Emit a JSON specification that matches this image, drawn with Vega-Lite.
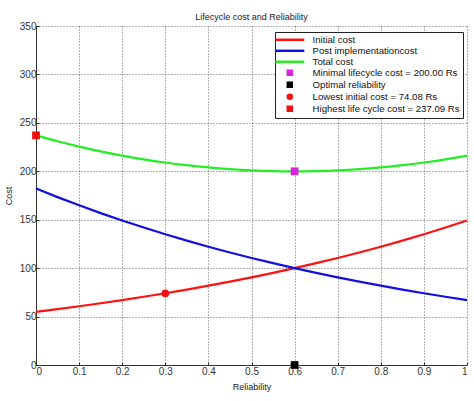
{
  "$schema": "https://vega.github.io/schema/vega-lite/v6.json",
  "width": 431,
  "height": 339,
  "autosize": {"type": "none"},
  "padding": {"left": 36, "top": 26, "right": 7, "bottom": 36},
  "background": "white",
  "title": {"text": "Lifecycle cost and Reliability", "fontSize": 9, "fontWeight": "normal", "font": "Liberation Sans", "color": "#222", "offset": -1},
  "config": {
    "view": {"stroke": null},
    "font": "Liberation Sans"
  },
  "datasets": {
    "curves": [
      {"r": 0, "series": "Initial cost", "cost": 54.88},
      {"r": 0.05, "series": "Initial cost", "cost": 57.69},
      {"r": 0.1, "series": "Initial cost", "cost": 60.65},
      {"r": 0.15, "series": "Initial cost", "cost": 63.76},
      {"r": 0.2, "series": "Initial cost", "cost": 67.03},
      {"r": 0.25, "series": "Initial cost", "cost": 70.47},
      {"r": 0.3, "series": "Initial cost", "cost": 74.08},
      {"r": 0.35, "series": "Initial cost", "cost": 77.88},
      {"r": 0.4, "series": "Initial cost", "cost": 81.87},
      {"r": 0.45, "series": "Initial cost", "cost": 86.07},
      {"r": 0.5, "series": "Initial cost", "cost": 90.48},
      {"r": 0.55, "series": "Initial cost", "cost": 95.12},
      {"r": 0.6, "series": "Initial cost", "cost": 100.0},
      {"r": 0.65, "series": "Initial cost", "cost": 105.13},
      {"r": 0.7, "series": "Initial cost", "cost": 110.52},
      {"r": 0.75, "series": "Initial cost", "cost": 116.18},
      {"r": 0.8, "series": "Initial cost", "cost": 122.14},
      {"r": 0.85, "series": "Initial cost", "cost": 128.4},
      {"r": 0.9, "series": "Initial cost", "cost": 134.99},
      {"r": 0.95, "series": "Initial cost", "cost": 141.91},
      {"r": 1, "series": "Initial cost", "cost": 149.18},
      {"r": 0, "series": "Post implementationcost", "cost": 182.21},
      {"r": 0.05, "series": "Post implementationcost", "cost": 173.33},
      {"r": 0.1, "series": "Post implementationcost", "cost": 164.87},
      {"r": 0.15, "series": "Post implementationcost", "cost": 156.83},
      {"r": 0.2, "series": "Post implementationcost", "cost": 149.18},
      {"r": 0.25, "series": "Post implementationcost", "cost": 141.91},
      {"r": 0.3, "series": "Post implementationcost", "cost": 134.99},
      {"r": 0.35, "series": "Post implementationcost", "cost": 128.4},
      {"r": 0.4, "series": "Post implementationcost", "cost": 122.14},
      {"r": 0.45, "series": "Post implementationcost", "cost": 116.18},
      {"r": 0.5, "series": "Post implementationcost", "cost": 110.52},
      {"r": 0.55, "series": "Post implementationcost", "cost": 105.13},
      {"r": 0.6, "series": "Post implementationcost", "cost": 100.0},
      {"r": 0.65, "series": "Post implementationcost", "cost": 95.12},
      {"r": 0.7, "series": "Post implementationcost", "cost": 90.48},
      {"r": 0.75, "series": "Post implementationcost", "cost": 86.07},
      {"r": 0.8, "series": "Post implementationcost", "cost": 81.87},
      {"r": 0.85, "series": "Post implementationcost", "cost": 77.88},
      {"r": 0.9, "series": "Post implementationcost", "cost": 74.08},
      {"r": 0.95, "series": "Post implementationcost", "cost": 70.47},
      {"r": 1, "series": "Post implementationcost", "cost": 67.03},
      {"r": 0, "series": "Total cost", "cost": 237.09},
      {"r": 0.05, "series": "Total cost", "cost": 231.02},
      {"r": 0.1, "series": "Total cost", "cost": 225.52},
      {"r": 0.15, "series": "Total cost", "cost": 220.59},
      {"r": 0.2, "series": "Total cost", "cost": 216.21},
      {"r": 0.25, "series": "Total cost", "cost": 212.38},
      {"r": 0.3, "series": "Total cost", "cost": 209.07},
      {"r": 0.35, "series": "Total cost", "cost": 206.28},
      {"r": 0.4, "series": "Total cost", "cost": 204.01},
      {"r": 0.45, "series": "Total cost", "cost": 202.25},
      {"r": 0.5, "series": "Total cost", "cost": 201.0},
      {"r": 0.55, "series": "Total cost", "cost": 200.25},
      {"r": 0.6, "series": "Total cost", "cost": 200.0},
      {"r": 0.65, "series": "Total cost", "cost": 200.25},
      {"r": 0.7, "series": "Total cost", "cost": 201.0},
      {"r": 0.75, "series": "Total cost", "cost": 202.25},
      {"r": 0.8, "series": "Total cost", "cost": 204.01},
      {"r": 0.85, "series": "Total cost", "cost": 206.28},
      {"r": 0.9, "series": "Total cost", "cost": 209.07},
      {"r": 0.95, "series": "Total cost", "cost": 212.38},
      {"r": 1, "series": "Total cost", "cost": 216.21}
    ],
    "markers": [
      {"r": 0.6, "series": "Minimal lifecycle cost = 200.00 Rs", "cost": 200.0},
      {"r": 0.6, "series": "Optimal reliability", "cost": 0},
      {"r": 0.3, "series": "Lowest initial cost = 74.08 Rs", "cost": 74.08},
      {"r": 0, "series": "Highest life cycle cost = 237.09 Rs", "cost": 237.09}
    ]
  },
  "encoding": {
    "x": {
      "field": "r", "type": "quantitative",
      "scale": {"domain": [0, 1], "nice": false, "zero": false},
      "axis": {
        "title": "Reliability", "values": [0, 0.1, 0.2, 0.3, 0.4, 0.5, 0.6, 0.7, 0.8, 0.9, 1],
        "format": "~g", "grid": true, "gridDash": [1, 2], "gridColor": "#555", "gridOpacity": 0.9,
        "domainColor": "#333", "tickColor": "#333", "tickSize": -3, "labelPadding": 4,
        "labelFontSize": 10, "labelColor": "#333", "titleFontSize": 9, "titleFontWeight": "normal", "titleColor": "#222", "titlePadding": 6
      }
    },
    "y": {
      "field": "cost", "type": "quantitative",
      "scale": {"domain": [0, 350], "nice": false},
      "axis": {
        "title": "Cost", "values": [0, 50, 100, 150, 200, 250, 300, 350],
        "grid": true, "gridDash": [1, 2], "gridColor": "#555", "gridOpacity": 0.9,
        "domainColor": "#333", "tickColor": "#333", "tickSize": -3, "labelPadding": 3,
        "labelFontSize": 10, "labelColor": "#333", "titleFontSize": 9, "titleFontWeight": "normal", "titleColor": "#222", "titlePadding": 6
      }
    },
    "color": {
      "field": "series", "type": "nominal",
      "scale": {
        "domain": ["Initial cost", "Post implementationcost", "Total cost", "Minimal lifecycle cost = 200.00 Rs", "Optimal reliability", "Lowest initial cost = 74.08 Rs", "Highest life cycle cost = 237.09 Rs"],
        "range": ["#ff1010", "#1010e0", "#22ee22", "#e020e0", "#000000", "#ee1010", "#ee1010"]
      },
      "legend": {
        "title": null, "orient": "none", "legendX": 239, "legendY": 6,
        "direction": "vertical",
        "strokeColor": "#222", "fillColor": "white", "padding": 3,
        "labelFontSize": 9.6, "labelColor": "#111", "labelLimit": 300,
        "rowPadding": 0, "symbolOffset": 7,
        "symbolSize": 36, "labelOffset": 18,
        "encode": {
          "symbols": {
            "update": {
              "shape": {"signal": "indexof(['Initial cost','Post implementationcost','Total cost'], datum.value) >= 0 ? 'M-2.9,0L2.9,0' : (datum.value == 'Lowest initial cost = 74.08 Rs' ? 'circle' : 'square')"},
              "size": {"signal": "indexof(['Initial cost','Post implementationcost','Total cost'], datum.value) >= 0 ? 100 : 25"},
              "strokeWidth": {"signal": "indexof(['Initial cost','Post implementationcost','Total cost'], datum.value) >= 0 ? 2.5 : 1.5"},
              "stroke": {"scale": "color", "field": "value"},
              "fill": {"scale": "color", "field": "value"},
              "opacity": {"value": 1}
            }
          }
        }
      }
    }
  },
  "layer": [
    {
      "data": {"name": "curves"},
      "mark": {"type": "line", "strokeWidth": 2.2, "interpolate": "monotone"}
    },
    {
      "data": {"name": "markers"},
      "mark": {"type": "point", "filled": true, "size": 60, "opacity": 1},
      "encoding": {
        "shape": {"field": "series", "type": "nominal", "legend": null,
          "scale": {"domain": ["Minimal lifecycle cost = 200.00 Rs", "Optimal reliability", "Lowest initial cost = 74.08 Rs", "Highest life cycle cost = 237.09 Rs"], "range": ["square", "square", "circle", "square"]}}
      }
    }
  ]
}
